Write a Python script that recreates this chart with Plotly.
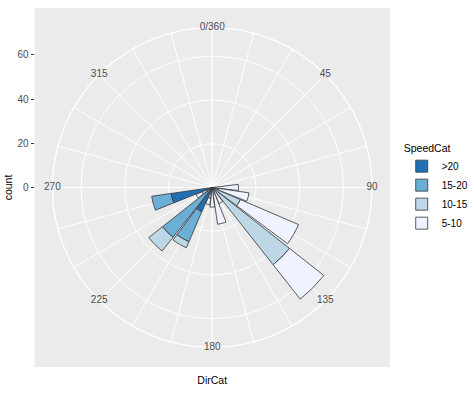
import plotly.graph_objects as go

# ---------------- data ----------------
directions = [90, 105, 120, 135, 150, 165, 180, 195, 210, 225, 240, 255]
speed_cats = [">20", "15-20", "10-15", "5-10"]
count_gt20 = [0, 0, 0, 0, 0, 0, 0, 1, 12, 1, 1, 19]
count_15_20 = [0, 0, 0, 0, 0, 0, 0, 2, 15, 28, 2, 9]
count_10_15 = [0, 3, 14, 45, 0, 0, 0, 2, 3, 8, 2, 0]
count_5_10 = [12, 14, 29, 20, 8, 17, 9, 3, 0, 0, 3, 0]
series = [count_gt20, count_15_20, count_10_15, count_5_10]
colors = ["#2171B5", "#6BAED6", "#BDD7E7", "#EFF3FF"]

theta_breaks = [0, 45, 90, 135, 180, 225, 270, 315]
theta_labels = ["0/360", "45", "90", "135", "180", "225", "270", "315"]
theta_minor = list(range(0, 360, 15))
r_breaks = [0, 20, 40, 60]
bin_width = 15

# ---------------- geometry (ggplot coord_polar style) ----------------
W, H = 474, 395
p_left, p_top, p_right, p_bottom = 35, 8, 394, 367
pw, ph = p_right - p_left, p_bottom - p_top
cx, cy = (p_left + p_right) / 2, (p_top + p_bottom) / 2

totals = [sum(v) for v in zip(*series)]
rmax = max(totals)
px_per_unit = 0.4 * pw / rmax
r_outer = 0.45 * pw / px_per_unit
y_half = (ph / 2) / px_per_unit
rad_px = 0.45 * pw

pdom_x = [(cx - rad_px) / W, (cx + rad_px) / W]
pdom_y = [(H - cy - rad_px) / H, (H - cy + rad_px) / H]

FONT = "Liberation Sans, Arial, sans-serif"
GREY_TXT = "#4D4D4D"
PANEL = "#EBEBEB"

fig = go.Figure()

# invisible trace for the cartesian panel (holds the 'count' axis)
fig.add_trace(go.Scatter(x=[0], y=[0], mode="markers", opacity=0,
                         showlegend=False, hoverinfo="skip"))
# invisible trace for the lower polar (minor spokes + outer circle)
fig.add_trace(go.Scatterpolar(r=[0], theta=[0], mode="markers", opacity=0,
                              showlegend=False, hoverinfo="skip", subplot="polar"))

for name, vals, col in zip(speed_cats, series, colors):
    fig.add_trace(go.Barpolar(
        r=vals, theta=directions, width=[0.9 * bin_width] * len(directions),
        name=name, marker_color=col,
        marker_line_color="#333333", marker_line_width=0.8,
        subplot="polar2"))

# theta labels centred on the outer circle
fig.add_trace(go.Scatterpolar(
    r=[r_outer] * len(theta_breaks), theta=theta_breaks, text=theta_labels,
    mode="text", textfont=dict(family=FONT, size=10, color=GREY_TXT),
    cliponaxis=False, showlegend=False, hoverinfo="skip", subplot="polar2"))

common_angular = dict(rotation=90, direction="clockwise", showticklabels=False,
                      ticks="", tickmode="array")

fig.update_layout(
    width=W, height=H,
    margin=dict(l=0, r=0, t=0, b=0),
    paper_bgcolor="white",
    plot_bgcolor=PANEL,
    font=dict(family=FONT, size=10, color="black"),
    xaxis=dict(domain=[p_left / W, p_right / W], range=[-1, 1],
               showticklabels=False, ticks="", showgrid=False, zeroline=False,
               showline=False, fixedrange=True,
               title=dict(text="DirCat", standoff=9,
                          font=dict(family=FONT, size=10.5, color="black"))),
    yaxis=dict(domain=[(H - p_bottom) / H, (H - p_top) / H],
               range=[-y_half, y_half], tickmode="array", tickvals=r_breaks,
               ticks="outside", ticklen=3, tickwidth=1, tickcolor="#333333",
               tickfont=dict(family=FONT, size=10, color=GREY_TXT),
               showgrid=False, zeroline=False, showline=False, fixedrange=True,
               title=dict(text="count", standoff=2,
                          font=dict(family=FONT, size=10.5, color="black"))),
    polar=dict(
        domain=dict(x=pdom_x, y=pdom_y), bgcolor="rgba(0,0,0,0)",
        radialaxis=dict(range=[0, r_outer], showgrid=False, showticklabels=False,
                        ticks="", showline=False),
        angularaxis=dict(**common_angular, tickvals=theta_minor, showline=True,
                         linecolor="white", linewidth=1.4,
                         showgrid=True, gridcolor="white", gridwidth=0.7),
    ),
    polar2=dict(
        domain=dict(x=pdom_x, y=pdom_y), bgcolor="rgba(0,0,0,0)", barmode="stack",
        radialaxis=dict(range=[0, r_outer], tickmode="array",
                        tickvals=r_breaks[1:], showgrid=True, gridcolor="white",
                        gridwidth=1.4, showticklabels=False, ticks="",
                        showline=False),
        angularaxis=dict(**common_angular, tickvals=theta_breaks, showline=False,
                         showgrid=True, gridcolor="white", gridwidth=1.4),
    ),
    legend=dict(x=406 / W, y=(H - 138) / H, xanchor="left", yanchor="top",
                traceorder="normal", itemwidth=30,
                font=dict(family=FONT, size=10, color="black"),
                title=dict(text="SpeedCat", font=dict(family=FONT, size=10.5))),
)

fig.write_html("out.html", config={"displayModeBar": False},
               post_script="document.body.style.margin='0';")
